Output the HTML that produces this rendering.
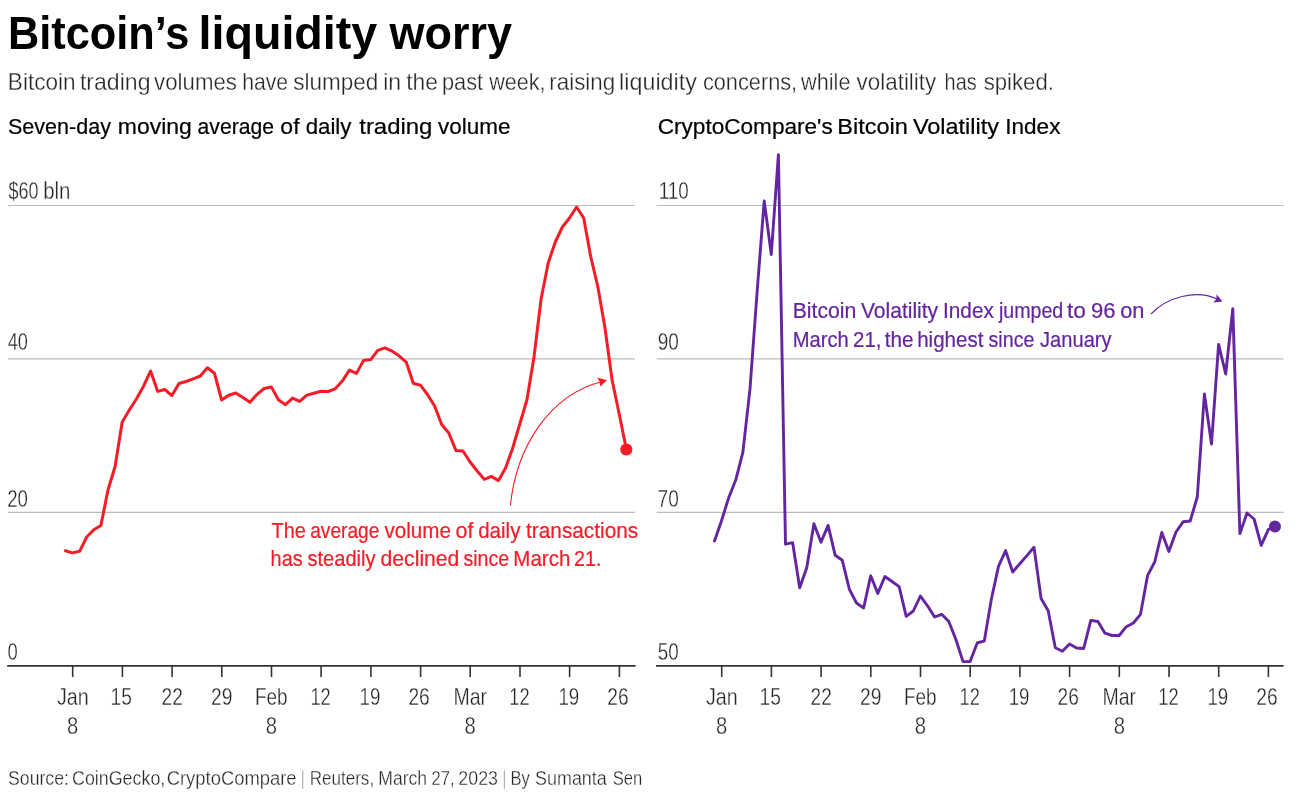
<!DOCTYPE html>
<html lang="en"><head><meta charset="utf-8"><title>Bitcoin's liquidity worry</title>
<style>
html,body{margin:0;padding:0;background:#fff;}
body{width:1300px;height:800px;overflow:hidden;font-family:"Liberation Sans",sans-serif;}
svg{display:block;will-change:transform;}
text{font-family:"Liberation Sans",sans-serif;}
</style></head><body>
<svg width="1300" height="800" viewBox="0 0 1300 800">
<rect width="1300" height="800" fill="#fff"/>
<text y="49" font-size="46.0" fill="#000" font-weight="bold"><tspan x="7.9" textLength="181.38" lengthAdjust="spacingAndGlyphs">Bitcoin’s</tspan> <tspan x="198.54" textLength="178.71" lengthAdjust="spacingAndGlyphs">liquidity</tspan> <tspan x="389.43" textLength="122.51" lengthAdjust="spacingAndGlyphs">worry</tspan> </text>
<text y="90.4" font-size="23.8" fill="#262626" stroke="#fff" stroke-width="0.32"><tspan x="7.85" textLength="67.82" lengthAdjust="spacingAndGlyphs">Bitcoin</tspan> <tspan x="79.95" textLength="70.54" lengthAdjust="spacingAndGlyphs">trading</tspan> <tspan x="154.12" textLength="82.88" lengthAdjust="spacingAndGlyphs">volumes</tspan> <tspan x="242.23" textLength="45.91" lengthAdjust="spacingAndGlyphs">have</tspan> <tspan x="293.27" textLength="85.08" lengthAdjust="spacingAndGlyphs">slumped</tspan> <tspan x="383.16" textLength="17.94" lengthAdjust="spacingAndGlyphs">in</tspan> <tspan x="406.25" textLength="31.76" lengthAdjust="spacingAndGlyphs">the</tspan> <tspan x="442.0" textLength="41.16" lengthAdjust="spacingAndGlyphs">past</tspan> <tspan x="489.13" textLength="56.41" lengthAdjust="spacingAndGlyphs">week,</tspan> <tspan x="549.32" textLength="65.82" lengthAdjust="spacingAndGlyphs">raising</tspan> <tspan x="619.03" textLength="77.92" lengthAdjust="spacingAndGlyphs">liquidity</tspan> <tspan x="702.88" textLength="94.28" lengthAdjust="spacingAndGlyphs">concerns,</tspan> <tspan x="801.03" textLength="49.43" lengthAdjust="spacingAndGlyphs">while</tspan> <tspan x="856.62" textLength="79.62" lengthAdjust="spacingAndGlyphs">volatility</tspan> <tspan x="944.62" textLength="32.1" lengthAdjust="spacingAndGlyphs">has</tspan> <tspan x="983.68" textLength="70.24" lengthAdjust="spacingAndGlyphs">spiked.</tspan> </text>
<text y="134.3" font-size="22.4" fill="#000" stroke="#000" stroke-width="0.22"><tspan x="8.02" textLength="102.92" lengthAdjust="spacingAndGlyphs">Seven-day</tspan> <tspan x="117.88" textLength="74.0" lengthAdjust="spacingAndGlyphs">moving</tspan> <tspan x="197.6" textLength="76.44" lengthAdjust="spacingAndGlyphs">average</tspan> <tspan x="280.33" textLength="19.23" lengthAdjust="spacingAndGlyphs">of</tspan> <tspan x="305.67" textLength="45.78" lengthAdjust="spacingAndGlyphs">daily</tspan> <tspan x="359.24" textLength="73.21" lengthAdjust="spacingAndGlyphs">trading</tspan> <tspan x="438.12" textLength="72.48" lengthAdjust="spacingAndGlyphs">volume</tspan> </text>
<text y="134.3" font-size="22.4" fill="#000" stroke="#000" stroke-width="0.22"><tspan x="657.75" textLength="174.96" lengthAdjust="spacingAndGlyphs">CryptoCompare's</tspan> <tspan x="837.27" textLength="70.66" lengthAdjust="spacingAndGlyphs">Bitcoin</tspan> <tspan x="912.9" textLength="86.15" lengthAdjust="spacingAndGlyphs">Volatility</tspan> <tspan x="1005.22" textLength="55.23" lengthAdjust="spacingAndGlyphs">Index</tspan> </text>
<line x1="8.1" x2="635" y1="205.5" y2="205.5" stroke="#bcbcbc" stroke-width="1.2"/>
<line x1="656.6" x2="1283.6" y1="205.5" y2="205.5" stroke="#bcbcbc" stroke-width="1.2"/>
<line x1="8.1" x2="635" y1="358.85" y2="358.85" stroke="#bcbcbc" stroke-width="1.2"/>
<line x1="656.6" x2="1283.6" y1="358.85" y2="358.85" stroke="#bcbcbc" stroke-width="1.2"/>
<line x1="8.1" x2="635" y1="512.3" y2="512.3" stroke="#bcbcbc" stroke-width="1.2"/>
<line x1="656.6" x2="1283.6" y1="512.3" y2="512.3" stroke="#bcbcbc" stroke-width="1.2"/>
<line x1="7.2" x2="635.6" y1="665.9" y2="665.9" stroke="#333" stroke-width="1.8"/>
<line x1="656" x2="1283.6" y1="665.9" y2="665.9" stroke="#333" stroke-width="1.8"/>
<line x1="72.7" x2="72.7" y1="665.9" y2="677" stroke="#333" stroke-width="1.6"/>
<text y="704.7" font-size="23.8" fill="#262626" stroke="#fff" stroke-width="0.32"><tspan x="56.94" textLength="31.79" lengthAdjust="spacingAndGlyphs">Jan</tspan> </text>
<text y="734.3" font-size="23.0" fill="#262626" stroke="#fff" stroke-width="0.32"><tspan x="67.02" textLength="11.26" lengthAdjust="spacingAndGlyphs">8</tspan> </text>
<line x1="122.4" x2="122.4" y1="665.9" y2="677" stroke="#333" stroke-width="1.6"/>
<text y="704.7" font-size="23.0" fill="#262626" stroke="#fff" stroke-width="0.32"><tspan x="110.54" textLength="21.37" lengthAdjust="spacingAndGlyphs">15</tspan> </text>
<line x1="172.1" x2="172.1" y1="665.9" y2="677" stroke="#333" stroke-width="1.6"/>
<text y="704.7" font-size="23.0" fill="#262626" stroke="#fff" stroke-width="0.32"><tspan x="161.54" textLength="21.22" lengthAdjust="spacingAndGlyphs">22</tspan> </text>
<line x1="221.8" x2="221.8" y1="665.9" y2="677" stroke="#333" stroke-width="1.6"/>
<text y="704.7" font-size="23.0" fill="#262626" stroke="#fff" stroke-width="0.32"><tspan x="211.03" textLength="21.38" lengthAdjust="spacingAndGlyphs">29</tspan> </text>
<line x1="271.5" x2="271.5" y1="665.9" y2="677" stroke="#333" stroke-width="1.6"/>
<text y="704.7" font-size="23.8" fill="#262626" stroke="#fff" stroke-width="0.32"><tspan x="254.95" textLength="32.65" lengthAdjust="spacingAndGlyphs">Feb</tspan> </text>
<text y="734.3" font-size="23.0" fill="#262626" stroke="#fff" stroke-width="0.32"><tspan x="265.82" textLength="11.26" lengthAdjust="spacingAndGlyphs">8</tspan> </text>
<line x1="321.1" x2="321.1" y1="665.9" y2="677" stroke="#333" stroke-width="1.6"/>
<text y="704.7" font-size="23.0" fill="#262626" stroke="#fff" stroke-width="0.32"><tspan x="310.46" textLength="20.31" lengthAdjust="spacingAndGlyphs">12</tspan> </text>
<line x1="370.9" x2="370.9" y1="665.9" y2="677" stroke="#333" stroke-width="1.6"/>
<text y="704.7" font-size="23.0" fill="#262626" stroke="#fff" stroke-width="0.32"><tspan x="359.62" textLength="20.81" lengthAdjust="spacingAndGlyphs">19</tspan> </text>
<line x1="420.6" x2="420.6" y1="665.9" y2="677" stroke="#333" stroke-width="1.6"/>
<text y="704.7" font-size="23.0" fill="#262626" stroke="#fff" stroke-width="0.32"><tspan x="408.44" textLength="21.31" lengthAdjust="spacingAndGlyphs">26</tspan> </text>
<line x1="470.2" x2="470.2" y1="665.9" y2="677" stroke="#333" stroke-width="1.6"/>
<text y="704.7" font-size="23.8" fill="#262626" stroke="#fff" stroke-width="0.32"><tspan x="453.45" textLength="33.52" lengthAdjust="spacingAndGlyphs">Mar</tspan> </text>
<text y="734.3" font-size="23.0" fill="#262626" stroke="#fff" stroke-width="0.32"><tspan x="464.62" textLength="11.26" lengthAdjust="spacingAndGlyphs">8</tspan> </text>
<line x1="520.0" x2="520.0" y1="665.9" y2="677" stroke="#333" stroke-width="1.6"/>
<text y="704.7" font-size="23.0" fill="#262626" stroke="#fff" stroke-width="0.32"><tspan x="509.26" textLength="20.31" lengthAdjust="spacingAndGlyphs">12</tspan> </text>
<line x1="569.6" x2="569.6" y1="665.9" y2="677" stroke="#333" stroke-width="1.6"/>
<text y="704.7" font-size="23.0" fill="#262626" stroke="#fff" stroke-width="0.32"><tspan x="558.42" textLength="20.81" lengthAdjust="spacingAndGlyphs">19</tspan> </text>
<line x1="619.4" x2="619.4" y1="665.9" y2="677" stroke="#333" stroke-width="1.6"/>
<text y="704.7" font-size="23.0" fill="#262626" stroke="#fff" stroke-width="0.32"><tspan x="607.24" textLength="21.31" lengthAdjust="spacingAndGlyphs">26</tspan> </text>
<line x1="721.7" x2="721.7" y1="665.9" y2="677" stroke="#333" stroke-width="1.6"/>
<text y="704.7" font-size="23.8" fill="#262626" stroke="#fff" stroke-width="0.32"><tspan x="705.99" textLength="31.79" lengthAdjust="spacingAndGlyphs">Jan</tspan> </text>
<text y="734.3" font-size="23.0" fill="#262626" stroke="#fff" stroke-width="0.32"><tspan x="716.07" textLength="11.26" lengthAdjust="spacingAndGlyphs">8</tspan> </text>
<line x1="771.4" x2="771.4" y1="665.9" y2="677" stroke="#333" stroke-width="1.6"/>
<text y="704.7" font-size="23.0" fill="#262626" stroke="#fff" stroke-width="0.32"><tspan x="759.59" textLength="21.37" lengthAdjust="spacingAndGlyphs">15</tspan> </text>
<line x1="821.1" x2="821.1" y1="665.9" y2="677" stroke="#333" stroke-width="1.6"/>
<text y="704.7" font-size="23.0" fill="#262626" stroke="#fff" stroke-width="0.32"><tspan x="810.59" textLength="21.22" lengthAdjust="spacingAndGlyphs">22</tspan> </text>
<line x1="870.8" x2="870.8" y1="665.9" y2="677" stroke="#333" stroke-width="1.6"/>
<text y="704.7" font-size="23.0" fill="#262626" stroke="#fff" stroke-width="0.32"><tspan x="860.08" textLength="21.38" lengthAdjust="spacingAndGlyphs">29</tspan> </text>
<line x1="920.5" x2="920.5" y1="665.9" y2="677" stroke="#333" stroke-width="1.6"/>
<text y="704.7" font-size="23.8" fill="#262626" stroke="#fff" stroke-width="0.32"><tspan x="904.0" textLength="32.65" lengthAdjust="spacingAndGlyphs">Feb</tspan> </text>
<text y="734.3" font-size="23.0" fill="#262626" stroke="#fff" stroke-width="0.32"><tspan x="914.87" textLength="11.26" lengthAdjust="spacingAndGlyphs">8</tspan> </text>
<line x1="970.2" x2="970.2" y1="665.9" y2="677" stroke="#333" stroke-width="1.6"/>
<text y="704.7" font-size="23.0" fill="#262626" stroke="#fff" stroke-width="0.32"><tspan x="959.51" textLength="20.31" lengthAdjust="spacingAndGlyphs">12</tspan> </text>
<line x1="1019.9" x2="1019.9" y1="665.9" y2="677" stroke="#333" stroke-width="1.6"/>
<text y="704.7" font-size="23.0" fill="#262626" stroke="#fff" stroke-width="0.32"><tspan x="1008.67" textLength="20.81" lengthAdjust="spacingAndGlyphs">19</tspan> </text>
<line x1="1069.6" x2="1069.6" y1="665.9" y2="677" stroke="#333" stroke-width="1.6"/>
<text y="704.7" font-size="23.0" fill="#262626" stroke="#fff" stroke-width="0.32"><tspan x="1057.49" textLength="21.31" lengthAdjust="spacingAndGlyphs">26</tspan> </text>
<line x1="1119.3" x2="1119.3" y1="665.9" y2="677" stroke="#333" stroke-width="1.6"/>
<text y="704.7" font-size="23.8" fill="#262626" stroke="#fff" stroke-width="0.32"><tspan x="1102.5" textLength="33.52" lengthAdjust="spacingAndGlyphs">Mar</tspan> </text>
<text y="734.3" font-size="23.0" fill="#262626" stroke="#fff" stroke-width="0.32"><tspan x="1113.67" textLength="11.26" lengthAdjust="spacingAndGlyphs">8</tspan> </text>
<line x1="1169.0" x2="1169.0" y1="665.9" y2="677" stroke="#333" stroke-width="1.6"/>
<text y="704.7" font-size="23.0" fill="#262626" stroke="#fff" stroke-width="0.32"><tspan x="1158.31" textLength="20.31" lengthAdjust="spacingAndGlyphs">12</tspan> </text>
<line x1="1218.7" x2="1218.7" y1="665.9" y2="677" stroke="#333" stroke-width="1.6"/>
<text y="704.7" font-size="23.0" fill="#262626" stroke="#fff" stroke-width="0.32"><tspan x="1207.47" textLength="20.81" lengthAdjust="spacingAndGlyphs">19</tspan> </text>
<line x1="1268.4" x2="1268.4" y1="665.9" y2="677" stroke="#333" stroke-width="1.6"/>
<text y="704.7" font-size="23.0" fill="#262626" stroke="#fff" stroke-width="0.32"><tspan x="1256.29" textLength="21.31" lengthAdjust="spacingAndGlyphs">26</tspan> </text>
<text y="198.7" font-size="23.0" fill="#262626" stroke="#fff" stroke-width="0.32"><tspan x="8.41" textLength="30.0" lengthAdjust="spacingAndGlyphs">$60</tspan> <tspan x="43.18" textLength="27.35" lengthAdjust="spacingAndGlyphs">bln</tspan> </text>
<text y="198.7" font-size="23.0" fill="#262626" stroke="#fff" stroke-width="0.32"><tspan x="658.77" textLength="29.97" lengthAdjust="spacingAndGlyphs">110</tspan> </text>
<text y="350.3" font-size="23.0" fill="#262626" stroke="#fff" stroke-width="0.32"><tspan x="7.68" textLength="20.23" lengthAdjust="spacingAndGlyphs">40</tspan> </text>
<text y="350.3" font-size="23.0" fill="#262626" stroke="#fff" stroke-width="0.32"><tspan x="657.71" textLength="21.13" lengthAdjust="spacingAndGlyphs">90</tspan> </text>
<text y="506.5" font-size="23.0" fill="#262626" stroke="#fff" stroke-width="0.32"><tspan x="7.16" textLength="20.77" lengthAdjust="spacingAndGlyphs">20</tspan> </text>
<text y="506.5" font-size="23.0" fill="#262626" stroke="#fff" stroke-width="0.32"><tspan x="657.62" textLength="21.22" lengthAdjust="spacingAndGlyphs">70</tspan> </text>
<text y="660.1" font-size="23.0" fill="#262626" stroke="#fff" stroke-width="0.32"><tspan x="7.58" textLength="10.24" lengthAdjust="spacingAndGlyphs">0</tspan> </text>
<text y="660.1" font-size="23.0" fill="#262626" stroke="#fff" stroke-width="0.32"><tspan x="657.84" textLength="20.99" lengthAdjust="spacingAndGlyphs">50</tspan> </text>
<polyline points="65.4,550.7 72.5,552.9 79.6,551.3 86.7,537.0 93.8,529.8 100.9,525.4 108.0,490.0 115.1,466.5 122.2,422.0 129.3,410.0 136.4,399.0 143.5,386.2 150.6,371.0 157.7,391.4 164.8,389.5 171.9,395.6 179.0,383.5 186.1,381.5 193.2,378.8 200.3,376.0 207.4,367.8 214.5,373.3 221.6,400.0 228.7,395.3 235.8,393.0 242.9,397.5 250.0,402.3 257.1,394.3 264.2,388.5 271.3,386.9 278.4,399.8 285.5,404.7 292.6,398.1 299.7,401.4 306.8,395.1 313.9,393.2 321.0,391.3 328.1,391.5 335.2,388.8 342.3,381.1 349.4,370.1 356.5,373.4 363.6,360.4 370.7,359.6 377.8,350.3 384.9,347.8 392.0,351.1 399.1,355.8 406.2,362.1 413.3,383.3 420.4,385.2 427.5,394.5 434.6,406.0 441.7,424.5 448.8,433.0 455.9,450.4 463.0,451.0 470.1,462.0 477.2,471.0 484.3,479.4 491.4,476.4 498.5,480.6 505.6,468.0 512.7,448.0 519.8,424.0 526.9,400.0 534.0,357.0 541.1,299.0 548.2,263.0 555.3,242.0 562.4,227.0 569.5,218.0 576.6,207.0 583.7,218.0 590.8,257.0 597.9,287.0 605.0,328.0 612.1,380.0 619.2,414.0 626.3,449.0" fill="none" stroke="#f41d27" stroke-width="3.0" stroke-linejoin="round" stroke-linecap="round"/>
<circle cx="626.3" cy="449.5" r="6.1" fill="#f41d27"/>
<polyline points="714.5,541.0 721.6,520.5 728.7,497.7 735.8,479.8 742.9,452.2 750.0,388.8 757.1,292.0 764.2,201.0 771.3,254.5 778.4,154.6 785.5,544.2 792.6,542.6 799.7,587.8 806.8,567.6 813.9,523.7 821.0,542.3 828.1,525.4 835.2,555.3 842.3,560.3 849.4,589.4 856.5,603.0 863.6,608.0 870.7,575.8 877.8,593.4 884.9,576.5 892.0,581.5 899.1,586.6 906.2,616.3 913.3,611.0 920.4,596.0 927.5,605.8 934.6,617.0 941.7,614.3 948.8,621.5 955.9,639.5 963.0,661.6 970.1,661.6 977.2,642.9 984.3,641.0 991.4,599.0 998.5,566.4 1005.6,550.6 1012.7,572.0 1019.8,563.7 1026.9,555.6 1034.0,547.3 1041.1,598.6 1048.2,610.7 1055.3,647.8 1062.4,651.2 1069.5,644.0 1076.6,648.0 1083.7,648.5 1090.8,620.4 1097.9,621.5 1105.0,633.2 1112.1,635.5 1119.2,635.5 1126.3,626.7 1133.4,623.0 1140.5,614.3 1147.6,575.4 1154.7,562.0 1161.8,532.5 1168.9,551.4 1176.0,532.0 1183.1,521.8 1190.2,521.0 1197.3,497.0 1204.4,394.0 1211.5,444.0 1218.6,344.4 1225.7,374.0 1232.8,308.6 1239.9,533.6 1247.0,513.0 1254.1,519.0 1261.2,545.4 1268.3,529.6 1275.4,526.4" fill="none" stroke="#6426a0" stroke-width="2.9" stroke-linejoin="round" stroke-linecap="round"/>
<circle cx="1275.0" cy="526.5" r="6.0" fill="#6426a0"/>
<path d="M510.4,505.5 C516.1,449.6 547.5,394.6 603.5,381.2" fill="none" stroke="#f41d27" stroke-width="1.1"/>
<path d="M607,380.3 L597.2,377.4 L599.6,381.6 L600.2,386.4 Z" fill="#f41d27"/>
<path d="M1151,314 C1166,298 1196,288 1219,300" fill="none" stroke="#6426a0" stroke-width="1.1"/>
<path d="M1222.4,301.6 L1216.6,294.2 L1216.4,299 L1213.2,302.4 Z" fill="#6426a0"/>
<text y="537.5" font-size="21.8" fill="#f41d27" stroke="#f41d27" stroke-width="0.22"><tspan x="271.55" textLength="34.33" lengthAdjust="spacingAndGlyphs">The</tspan> <tspan x="310.19" textLength="69.16" lengthAdjust="spacingAndGlyphs">average</tspan> <tspan x="384.43" textLength="66.49" lengthAdjust="spacingAndGlyphs">volume</tspan> <tspan x="455.6" textLength="17.97" lengthAdjust="spacingAndGlyphs">of</tspan> <tspan x="478.14" textLength="42.3" lengthAdjust="spacingAndGlyphs">daily</tspan> <tspan x="526.09" textLength="112.07" lengthAdjust="spacingAndGlyphs">transactions</tspan> </text>
<text y="566" font-size="21.8" fill="#f41d27" stroke="#f41d27" stroke-width="0.22"><tspan x="270.62" textLength="32.1" lengthAdjust="spacingAndGlyphs">has</tspan> <tspan x="307.44" textLength="68.1" lengthAdjust="spacingAndGlyphs">steadily</tspan> <tspan x="380.61" textLength="78.75" lengthAdjust="spacingAndGlyphs">declined</tspan> <tspan x="463.45" textLength="45.82" lengthAdjust="spacingAndGlyphs">since</tspan> <tspan x="513.32" textLength="57.02" lengthAdjust="spacingAndGlyphs">March</tspan> <tspan x="574.01" textLength="27.39" lengthAdjust="spacingAndGlyphs">21.</tspan> </text>
<text y="318.4" font-size="21.8" fill="#6426a0" stroke="#6426a0" stroke-width="0.22"><tspan x="792.66" textLength="63.72" lengthAdjust="spacingAndGlyphs">Bitcoin</tspan> <tspan x="860.91" textLength="77.23" lengthAdjust="spacingAndGlyphs">Volatility</tspan> <tspan x="943.09" textLength="50.74" lengthAdjust="spacingAndGlyphs">Index</tspan> <tspan x="998.88" textLength="64.39" lengthAdjust="spacingAndGlyphs">jumped</tspan> <tspan x="1067.06" textLength="19.0" lengthAdjust="spacingAndGlyphs">to</tspan> <tspan x="1090.97" textLength="24.5" lengthAdjust="spacingAndGlyphs">96</tspan> <tspan x="1120.19" textLength="24.23" lengthAdjust="spacingAndGlyphs">on</tspan> </text>
<text y="346.8" font-size="21.8" fill="#6426a0" stroke="#6426a0" stroke-width="0.22"><tspan x="792.74" textLength="56.07" lengthAdjust="spacingAndGlyphs">March</tspan> <tspan x="853.07" textLength="28.36" lengthAdjust="spacingAndGlyphs">21,</tspan> <tspan x="884.69" textLength="28.84" lengthAdjust="spacingAndGlyphs">the</tspan> <tspan x="917.17" textLength="66.38" lengthAdjust="spacingAndGlyphs">highest</tspan> <tspan x="988.55" textLength="45.82" lengthAdjust="spacingAndGlyphs">since</tspan> <tspan x="1040.09" textLength="71.45" lengthAdjust="spacingAndGlyphs">January</tspan> </text>
<text y="784.5" font-size="19.5" fill="#262626" stroke="#fff" stroke-width="0.32"><tspan x="8.1" textLength="60.81" lengthAdjust="spacingAndGlyphs">Source:</tspan> <tspan x="71.99" textLength="93.31" lengthAdjust="spacingAndGlyphs">CoinGecko,</tspan> <tspan x="166.67" textLength="129.95" lengthAdjust="spacingAndGlyphs">CryptoCompare</tspan> </text>
<line x1="302.7" x2="302.7" y1="770.5" y2="788.7" stroke="#b0b0b0" stroke-width="1.2"/>
<text y="784.5" font-size="19.5" fill="#262626" stroke="#fff" stroke-width="0.32"><tspan x="309.7" textLength="64.43" lengthAdjust="spacingAndGlyphs">Reuters,</tspan> <tspan x="378.36" textLength="48.78" lengthAdjust="spacingAndGlyphs">March</tspan> <tspan x="431.57" textLength="23.02" lengthAdjust="spacingAndGlyphs">27,</tspan> <tspan x="458.3" textLength="39.68" lengthAdjust="spacingAndGlyphs">2023</tspan> </text>
<line x1="504.4" x2="504.4" y1="770.5" y2="788.7" stroke="#b0b0b0" stroke-width="1.2"/>
<text y="784.5" font-size="19.5" fill="#262626" stroke="#fff" stroke-width="0.32"><tspan x="510.44" textLength="19.4" lengthAdjust="spacingAndGlyphs">By</tspan> <tspan x="535.09" textLength="71.71" lengthAdjust="spacingAndGlyphs">Sumanta</tspan> <tspan x="612.75" textLength="29.53" lengthAdjust="spacingAndGlyphs">Sen</tspan> </text>
</svg>
</body></html>
